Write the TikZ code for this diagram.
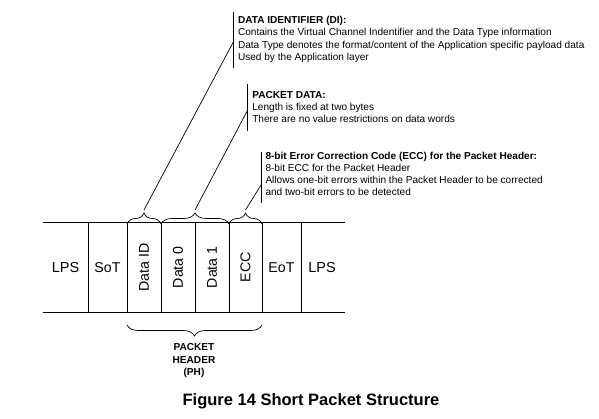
\documentclass[tikz,border=0pt]{standalone}
\usepackage{fontspec}
\setmainfont{Liberation Sans}
\usetikzlibrary{decorations.pathreplacing}
\begin{document}
\begin{tikzpicture}[x=1pt,y=-1pt,
  every node/.style={inner sep=0pt, outer sep=0pt},
  cell/.style={draw, line width=0.7pt, minimum height=89.5pt, font=\fontsize{14.2}{16}\selectfont},
  lbl/.style={font=\fontsize{14.5}{16}\selectfont},
  note/.style={anchor=base west, align=left, font=\fontsize{10.1}{12.1}\selectfont},
  br/.style={decorate, line width=0.7pt, decoration={brace, amplitude=11pt}},
  ln/.style={line width=0.7pt}
]
\useasboundingbox[fill=white] (0,0) rectangle (599,419);

% horizontal bus lines
\coordinate (tl) at (42.7,222.5);
\coordinate (tr) at (345,222.5);
\coordinate (bl) at (42.7,312);
\coordinate (br) at (345,312);
\draw[ln] (tl) -- (tr);
\draw[ln] (bl) -- (br);

% cells
\node[lbl] (lps1) at (65.5,267.25) {LPS};
\node[cell, minimum width=39pt] (sot) at (107.5,267.25) {SoT};
\node[cell, minimum width=34pt] (di) at (144,267.25) {\rotatebox{90}{Data ID}};
\node[cell, minimum width=34pt] (d0) at (178,267.25) {\rotatebox{90}{Data 0}};
\node[cell, minimum width=34pt] (d1) at (212,267.25) {\rotatebox{90}{Data 1}};
\node[cell, minimum width=33pt] (ecc) at (245.5,267.25) {\rotatebox{90}{ECC}};
\node[cell, minimum width=39pt] (eot) at (281.5,267.25) {EoT};
\node[lbl] (lps2) at (322,267.25) {LPS};

% top braces
\draw[br] ([yshift=-1.5pt]di.north west) -- ([yshift=-1.5pt]di.north east);
\draw[br] ([yshift=-1.5pt]d0.north west) -- ([yshift=-1.5pt]d1.north east);
\draw[br] ([yshift=-1.5pt]ecc.north west) -- ([yshift=-1.5pt]ecc.north east);
\coordinate (t1) at (144,210);
\coordinate (t2) at (195,210);
\coordinate (t3) at (245.5,210);

% annotation bars
\coordinate (a1top) at (233.3,12);
\coordinate (a1bot) at (233.3,68);
\coordinate (a1mid) at (233.3,42);
\coordinate (a2top) at (247.7,84);
\coordinate (a2bot) at (247.7,131);
\coordinate (a2mid) at (247.7,110);
\coordinate (a3top) at (261,152);
\coordinate (a3bot) at (261,203);
\coordinate (a3mid) at (261,185);
\draw[ln] (a1top) -- (a1bot);
\draw[ln] (a2top) -- (a2bot);
\draw[ln] (a3top) -- (a3bot);
\draw[ln] (t1) -- (a1mid);
\draw[ln] (t2) -- (a2mid);
\draw[ln] (t3) -- (a3mid);

% annotation texts (base anchor = last line baseline)
\node[note] (n1) at (238,60.2) {\textbf{DATA IDENTIFIER (DI):}\\
Contains the Virtual Channel Indentifier and the Data Type information\\
Data Type denotes the format/content of the Application specific payload data\\
Used by the Application layer};
\node[note] (n2) at (252.3,122.5) {\textbf{PACKET DATA:}\\
Length is fixed at two bytes\\
There are no value restrictions on data words};
\node[note] (n3) at (265.5,196) {\textbf{8-bit Error Correction Code (ECC) for the Packet Header:}\\
8-bit ECC for the Packet Header\\
Allows one-bit errors within the Packet Header to be corrected\\
and two-bit errors to be detected};

% bottom brace
\draw[br, decoration={brace, mirror, amplitude=11pt}] (127,325) -- (262,325);
\node[align=center, anchor=base, font=\bfseries\fontsize{10.1}{12.5}\selectfont] (ph) at (194,375.5) {PACKET\\HEADER\\(PH)};

% caption
\node[font=\bfseries\fontsize{16.5}{18}\selectfont] (cap) at (311,401) {Figure 14 Short Packet Structure};
\end{tikzpicture}
\end{document}
